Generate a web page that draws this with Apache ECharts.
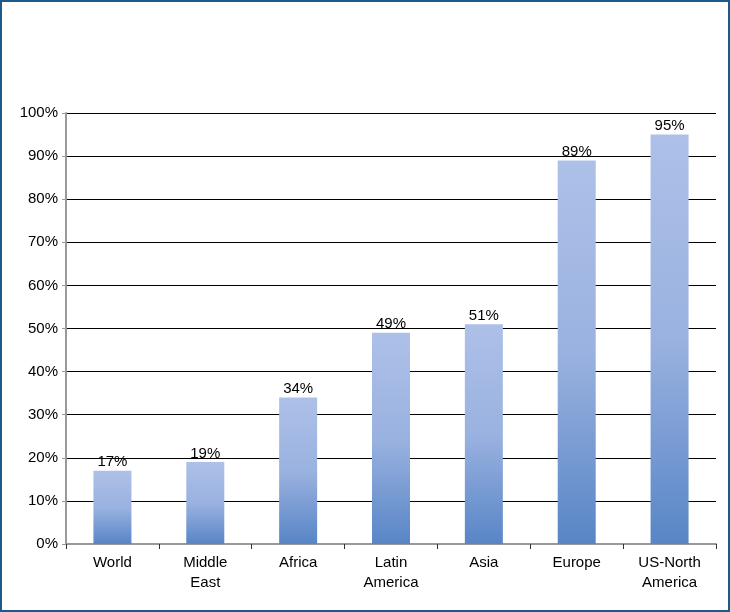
<!DOCTYPE html><html><head><meta charset="utf-8">
<script src="https://cdn.jsdelivr.net/npm/echarts@6/dist/echarts.min.js"></script>
<style>html,body{margin:0;padding:0;background:#fff}#c{width:726px;height:608px;border:2px solid #1d5a8c}</style></head>
<body><div id="c"></div><script>
const categories=["World","Middle\nEast","Africa","Latin\nAmerica","Asia","Europe","US-North\nAmerica"];
const values=[17,19,34,49,51,89,95];
const yTicks=[0,10,20,30,40,50,60,70,80,90,100];
const ch=echarts.init(document.getElementById('c'));
ch.setOption({
 animation:false,
 grid:{left:64,right:12,top:111,bottom:66},
 xAxis:{type:'category',data:categories,
  axisLine:{lineStyle:{color:'#999',width:2}},
  axisTick:{show:true,length:5,lineStyle:{color:'#333'}},
  axisLabel:{color:'#000',fontSize:15,fontFamily:'Liberation Sans, Arial',lineHeight:20,margin:9}},
 yAxis:{type:'value',min:0,max:100,interval:10,
  axisLine:{show:true,lineStyle:{color:'#999',width:2}},
  axisTick:{show:true,length:4,lineStyle:{color:'#999'}},
  splitLine:{lineStyle:{color:'#000',width:1}},
  axisLabel:{color:'#000',fontSize:15,fontFamily:'Liberation Sans, Arial',formatter:v=>v+'%',margin:8}},
 series:[{type:'bar',data:values,barWidth:38,
  itemStyle:{color:new echarts.graphic.LinearGradient(0,0,0,1,[{offset:0,color:'#adc0e8'},{offset:0.5,color:'#9ab2e0'},{offset:1,color:'#5885c6'}])},
  label:{show:true,position:'top',distance:1,formatter:p=>p.value+'%',color:'#000',fontSize:15,fontFamily:'Liberation Sans, Arial'}}]
});
</script></body></html>
